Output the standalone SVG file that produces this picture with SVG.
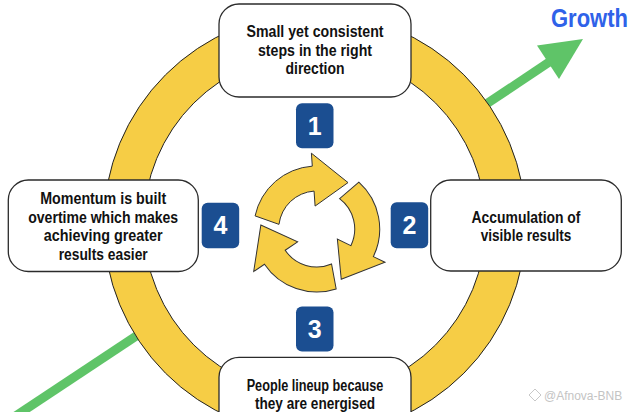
<svg xmlns="http://www.w3.org/2000/svg" xmlns:xlink="http://www.w3.org/1999/xlink" width="634" height="412" viewBox="0 0 634 412">
<style>
.box{fill:#ffffff;stroke:#2b2b2b;stroke-width:1.3}
.lbl{font-family:"Liberation Sans",Arial,sans-serif;font-weight:bold;font-size:17px;fill:#111111;text-anchor:middle}
.lbs{font-size:16px}
.badge{fill:#1b4e91}
.num{font-family:"Liberation Sans",Arial,sans-serif;font-weight:bold;font-size:25px;fill:#ffffff;text-anchor:middle}
.cyc{fill:#f6cd45;stroke:#333333;stroke-width:1}
.ring{fill:#f6cd45;stroke:#222222;stroke-width:1;fill-rule:evenodd}
.grow{stroke:#5fc468;stroke-width:9;fill:none}
</style>
<defs>
<path id="cycArrow" class="cyc" d="M255.08,215.90 A63,63 0 0 1 312.31,166.15 L311.40,153.19 L348.02,182.58 L315.10,206.06 L314.05,191.09 A38,38 0 0 0 278.98,224.37 Z"/>
</defs>
<rect width="634" height="412" fill="#ffffff"/>
<g id="connectors">
<line class="grow" x1="10" y1="419.7" x2="140" y2="333.6"/>
<line class="grow" x1="484" y1="105.6" x2="550" y2="61.5"/>
<polygon points="583,39 537,45.5 559,79" fill="#5fc468"/>
</g>
<g id="ring">
<path class="ring" d="M103.7,224 A211,211 0 1 0 525.7,224 A211,211 0 1 0 103.7,224 Z M143.7,224 A171,171 0 1 0 485.7,224 A171,171 0 1 0 143.7,224 Z"/>
</g>
<g id="cycle">
<use xlink:href="#cycArrow"/>
<use xlink:href="#cycArrow" transform="rotate(120 316.7 229)"/>
<use xlink:href="#cycArrow" transform="rotate(240 316.7 229)"/>
</g>
<g id="step1">
<rect class="box" x="219" y="4" width="192" height="93" rx="20"/>
<text class="lbl" x="315" y="37.3" textLength="137" lengthAdjust="spacingAndGlyphs">Small yet consistent</text>
<text class="lbl" x="315" y="55.5" textLength="114" lengthAdjust="spacingAndGlyphs">steps in the right</text>
<text class="lbl" x="315" y="74" textLength="59" lengthAdjust="spacingAndGlyphs">direction</text>
</g>
<g id="badge1">
<rect class="badge" x="296" y="103.3" width="37.5" height="45" rx="6"/>
<text class="num" x="314.7" y="134.5">1</text>
</g>
<g id="step2">
<rect class="box" x="430.7" y="180" width="190.6" height="91" rx="20"/>
<text class="lbl" x="526" y="222.7" textLength="109" lengthAdjust="spacingAndGlyphs">Accumulation of</text>
<text class="lbl" x="526" y="241" textLength="90.6" lengthAdjust="spacingAndGlyphs">visible results</text>
</g>
<g id="badge2">
<rect class="badge" x="390.7" y="202.3" width="37.5" height="46" rx="6"/>
<text class="num" x="409.5" y="234">2</text>
</g>
<g id="step3">
<rect class="box" x="219" y="357.3" width="192" height="93" rx="20"/>
<text class="lbl lbs" x="315" y="391" textLength="136.7" lengthAdjust="spacingAndGlyphs">People lineup because</text>
<text class="lbl lbs" x="315" y="408.5" textLength="120" lengthAdjust="spacingAndGlyphs">they are energised</text>
</g>
<g id="badge3">
<rect class="badge" x="296" y="306.5" width="37.5" height="45" rx="6"/>
<text class="num" x="314.7" y="338">3</text>
</g>
<g id="step4">
<rect class="box" x="8.3" y="180" width="190" height="91.5" rx="20"/>
<text class="lbl" x="103.2" y="204.3" textLength="126" lengthAdjust="spacingAndGlyphs">Momentum is built</text>
<text class="lbl" x="103.2" y="222.7" textLength="150" lengthAdjust="spacingAndGlyphs">overtime which makes</text>
<text class="lbl" x="103.2" y="241" textLength="119" lengthAdjust="spacingAndGlyphs">achieving greater</text>
<text class="lbl" x="103.2" y="259.5" textLength="89" lengthAdjust="spacingAndGlyphs">results easier</text>
</g>
<g id="badge4">
<rect class="badge" x="201.7" y="202.7" width="37.5" height="45.5" rx="6"/>
<text class="num" x="220.5" y="234">4</text>
</g>
<g id="growth">
<text transform="scale(1,1.2)" x="551" y="22.25" font-family="Liberation Sans, Arial, sans-serif" font-weight="bold" font-size="22" fill="#2f62e9" textLength="77" lengthAdjust="spacingAndGlyphs">Growth</text>
</g>
<g id="watermark">
<path d="M535,389 L541,395 L535,401 L529,395 Z" fill="none" stroke="#c8c8c8" stroke-width="1"/>
<text x="544" y="400" font-family="Liberation Sans, Arial, sans-serif" font-size="12" fill="#c4c4c4">@Afnova-BNB</text>
</g>
</svg>
